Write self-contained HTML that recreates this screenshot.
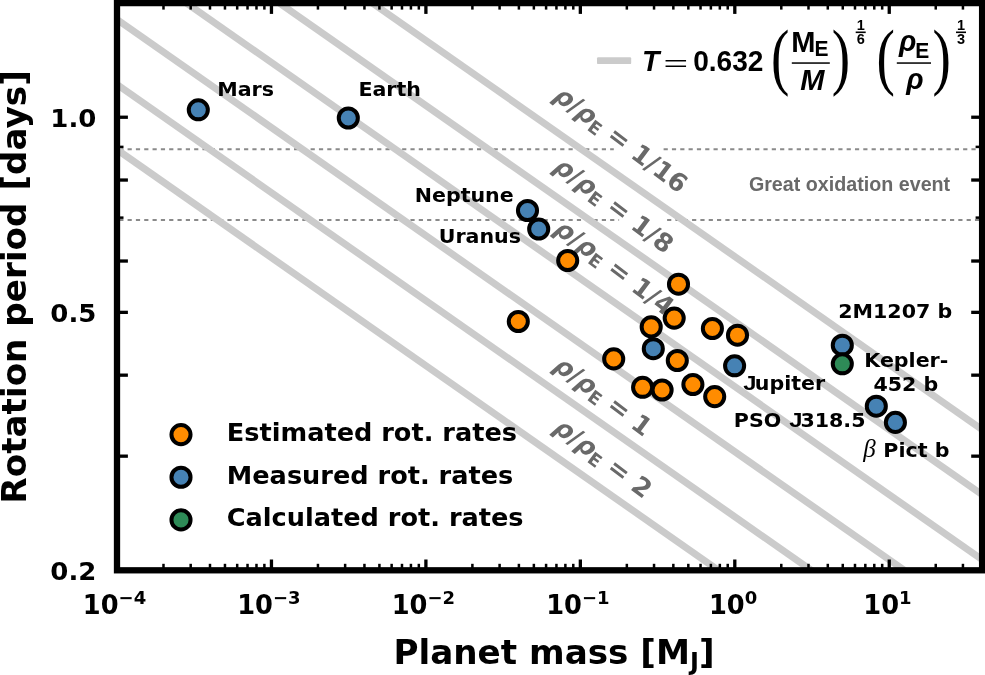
<!DOCTYPE html>
<html lang="en"><head><meta charset="utf-8"><title>Rotation period vs planet mass</title>
<style>html,body{margin:0;padding:0;background:#fff}body{width:985px;height:675px;overflow:hidden}svg{display:block}.dj{font-family:"DejaVu Sans","Liberation Sans",sans-serif;font-weight:bold}.lb{font-family:"Liberation Sans","DejaVu Sans",sans-serif;font-weight:bold}.se{font-family:"Liberation Serif","DejaVu Serif",serif}</style></head><body>
<svg width="985" height="675" viewBox="0 0 985 675">
<rect width="985" height="675" fill="#fff"/>
<defs><clipPath id="ax"><rect x="117.0" y="3.1" width="865.1" height="567.1999999999999"/></clipPath></defs>
<g clip-path="url(#ax)">
<line x1="110.93" y1="149.2" x2="613.8" y2="149.2" stroke="#8a8a8a" stroke-width="2" stroke-dasharray="4.2 4.12"/>
<line x1="663.6" y1="149.2" x2="982.1" y2="149.2" stroke="#8a8a8a" stroke-width="2" stroke-dasharray="4.2 4.12"/>
<line x1="110.93" y1="219.9" x2="619.1" y2="219.9" stroke="#8a8a8a" stroke-width="2" stroke-dasharray="4.2 4.12"/>
<line x1="667.1" y1="219.9" x2="982.1" y2="219.9" stroke="#8a8a8a" stroke-width="2" stroke-dasharray="4.2 4.12"/>
<line x1="97.0" y1="135.65" x2="1002.1" y2="768.74" stroke="#cbcbcb" stroke-width="7.0"/>
<line x1="97.0" y1="70.61" x2="1002.1" y2="703.70" stroke="#cbcbcb" stroke-width="7.0"/>
<line x1="97.0" y1="5.57" x2="1002.1" y2="638.66" stroke="#cbcbcb" stroke-width="7.0"/>
<line x1="97.0" y1="-59.47" x2="1002.1" y2="573.62" stroke="#cbcbcb" stroke-width="7.0"/>
<line x1="97.0" y1="-124.51" x2="1002.1" y2="508.58" stroke="#cbcbcb" stroke-width="7.0"/>
<line x1="97.0" y1="-189.55" x2="1002.1" y2="443.54" stroke="#cbcbcb" stroke-width="7.0"/>
</g>
<g transform="translate(552.2,98.5) rotate(37.00)">
<text class="dj" font-size="25.4" fill="#696969"><tspan font-style="italic">ρ</tspan>/<tspan font-style="italic">ρ</tspan><tspan font-size="17.8" dy="4">E</tspan><tspan dy="-4"> = 1/16</tspan></text></g>
<g transform="translate(552.2,169.5) rotate(37.00)">
<text class="dj" font-size="25.4" fill="#696969"><tspan font-style="italic">ρ</tspan>/<tspan font-style="italic">ρ</tspan><tspan font-size="17.8" dy="4">E</tspan><tspan dy="-4"> = 1/8</tspan></text></g>
<g transform="translate(552.7,231.7) rotate(37.00)">
<text class="dj" font-size="25.4" fill="#696969"><tspan font-style="italic">ρ</tspan>/<tspan font-style="italic">ρ</tspan><tspan font-size="17.8" dy="4">E</tspan><tspan dy="-4"> = 1/4</tspan></text></g>
<g transform="translate(552.2,368.5) rotate(37.00)">
<text class="dj" font-size="25.4" fill="#696969"><tspan font-style="italic">ρ</tspan>/<tspan font-style="italic">ρ</tspan><tspan font-size="17.8" dy="4">E</tspan><tspan dy="-4"> = 1</tspan></text></g>
<g transform="translate(552.2,430.5) rotate(37.00)">
<text class="dj" font-size="25.4" fill="#696969"><tspan font-style="italic">ρ</tspan>/<tspan font-style="italic">ρ</tspan><tspan font-size="17.8" dy="4">E</tspan><tspan dy="-4"> = 2</tspan></text></g>
<text class="lb" transform="translate(748.9,191) scale(0.938,1)" font-size="21" fill="#696969">Great oxidation event</text>
<circle cx="567.7" cy="260.5" r="9.55" fill="#ff8c00" stroke="#000" stroke-width="4"/>
<circle cx="518.3" cy="321.5" r="9.55" fill="#ff8c00" stroke="#000" stroke-width="4"/>
<circle cx="678.5" cy="284.2" r="9.55" fill="#ff8c00" stroke="#000" stroke-width="4"/>
<circle cx="651.2" cy="326.9" r="9.55" fill="#ff8c00" stroke="#000" stroke-width="4"/>
<circle cx="674.2" cy="318.1" r="9.55" fill="#ff8c00" stroke="#000" stroke-width="4"/>
<circle cx="712.4" cy="328.5" r="9.55" fill="#ff8c00" stroke="#000" stroke-width="4"/>
<circle cx="737.5" cy="335.2" r="9.55" fill="#ff8c00" stroke="#000" stroke-width="4"/>
<circle cx="613.7" cy="358.9" r="9.55" fill="#ff8c00" stroke="#000" stroke-width="4"/>
<circle cx="677.3" cy="360.5" r="9.55" fill="#ff8c00" stroke="#000" stroke-width="4"/>
<circle cx="642.6" cy="387.3" r="9.55" fill="#ff8c00" stroke="#000" stroke-width="4"/>
<circle cx="662.1" cy="390.0" r="9.55" fill="#ff8c00" stroke="#000" stroke-width="4"/>
<circle cx="692.9" cy="384.5" r="9.55" fill="#ff8c00" stroke="#000" stroke-width="4"/>
<circle cx="714.7" cy="396.6" r="9.55" fill="#ff8c00" stroke="#000" stroke-width="4"/>
<circle cx="198.3" cy="109.8" r="9.55" fill="#4682b4" stroke="#000" stroke-width="4"/>
<circle cx="348.3" cy="118.0" r="9.55" fill="#4682b4" stroke="#000" stroke-width="4"/>
<circle cx="527.5" cy="210.5" r="9.55" fill="#4682b4" stroke="#000" stroke-width="4"/>
<circle cx="538.7" cy="229.0" r="9.55" fill="#4682b4" stroke="#000" stroke-width="4"/>
<circle cx="653.3" cy="348.7" r="9.55" fill="#4682b4" stroke="#000" stroke-width="4"/>
<circle cx="734.6" cy="365.8" r="9.55" fill="#4682b4" stroke="#000" stroke-width="4"/>
<circle cx="842.3" cy="345.2" r="9.55" fill="#4682b4" stroke="#000" stroke-width="4"/>
<circle cx="876.3" cy="406.2" r="9.55" fill="#4682b4" stroke="#000" stroke-width="4"/>
<circle cx="895.4" cy="422.4" r="9.55" fill="#4682b4" stroke="#000" stroke-width="4"/>
<circle cx="842.3" cy="363.8" r="9.55" fill="#2e8b57" stroke="#000" stroke-width="4"/>
<text class="dj" transform="translate(217.20,95.60) scale(1,0.95)" font-size="20.6" text-anchor="start" >Mars</text>
<text class="dj" transform="translate(358.40,95.60) scale(1,0.95)" font-size="20.6" text-anchor="start" >Earth</text>
<text class="dj" transform="translate(414.70,201.50) scale(1,0.95)" font-size="20.6" text-anchor="start" >Neptune</text>
<text class="dj" transform="translate(438.70,243.10) scale(1,0.95)" font-size="20.6" text-anchor="start" >Uranus</text>
<text class="lb" font-size="22" transform="translate(743.2,390.3) scale(1.08,0.95)">J</text>
<text class="dj" transform="translate(754.80,390.20) scale(1,0.95)" font-size="20.6" text-anchor="start" >upiter</text>
<text class="dj" transform="translate(733.80,426.60) scale(1,0.95)" font-size="20.6" text-anchor="start" >PSO</text>
<text class="lb" font-size="22" transform="translate(789.3,426.6) scale(1.08,0.95)">J</text>
<text class="dj" transform="translate(800.40,426.60) scale(1,0.95)" font-size="20.6" text-anchor="start" >318.5</text>
<text class="dj" transform="translate(838.20,317.70) scale(1,0.95)" font-size="20.6" text-anchor="start" >2M1207 b</text>
<text class="dj" transform="translate(906.30,366.70) scale(1,0.95)" font-size="20.6" text-anchor="middle" >Kepler-</text>
<text class="dj" transform="translate(905.90,390.90) scale(1,0.95)" font-size="20.6" text-anchor="middle" >452 b</text>
<text class="se" x="863.2" y="457.1" font-size="25" font-style="italic">β</text>
<text class="dj" transform="translate(883.30,456.80) scale(1,0.95)" font-size="20.6" text-anchor="start" >Pict b</text>
<circle cx="181.0" cy="434.6" r="9.55" fill="#ff8c00" stroke="#000" stroke-width="4"/>
<text class="dj" transform="translate(226.80,440.90) scale(1,0.95)" font-size="25.6" text-anchor="start" >Estimated rot. rates</text>
<circle cx="181.0" cy="477.25" r="9.55" fill="#4682b4" stroke="#000" stroke-width="4"/>
<text class="dj" transform="translate(226.80,483.55) scale(1,0.95)" font-size="25.6" text-anchor="start" >Measured rot. rates</text>
<circle cx="181.0" cy="519.9" r="9.55" fill="#2e8b57" stroke="#000" stroke-width="4"/>
<text class="dj" transform="translate(226.80,526.20) scale(1,0.95)" font-size="25.6" text-anchor="start" >Calculated rot. rates</text>
<rect x="597" y="57.2" width="34.2" height="6.9" rx="1.2" fill="#cbcbcb"/>
<text class="lb" transform="translate(641.9,70.9) scale(1.0,1.06)" font-size="28.5" font-style="italic">T</text>
<text class="lb" style="font-weight:normal" font-size="22.5" transform="translate(663.5,70.8) scale(1.875,1)">=</text>
<text class="lb" transform="translate(693.2,70.9) scale(0.985,1.06)" font-size="28.5" >0.632</text>
<text class="se" font-size="74.66" transform="translate(771.1,80.6) scale(0.74,1)">(</text>
<text class="se" font-size="74.66" transform="translate(831.7,80.6) scale(0.74,1)">)</text>
<text class="se" font-size="74.66" transform="translate(876.5,80.6) scale(0.74,1)">(</text>
<text class="se" font-size="74.66" transform="translate(932.5,80.6) scale(0.74,1)">)</text>
<text class="lb" transform="translate(791.3,51.7) scale(1.02,1.06)" font-size="28.5" >M</text>
<text class="lb" transform="translate(814.6,56.2) scale(1.0,1.07)" font-size="21" >E</text>
<rect x="791.8" y="62.3" width="38" height="1.5" fill="#000"/>
<text class="lb" transform="translate(800.3,89.6) scale(1.02,1.06)" font-size="28.5" font-style="italic">M</text>
<text class="lb" transform="translate(899.1,51.2) scale(1.0,1.06)" font-size="28.5" font-style="italic">ρ</text>
<text class="lb" transform="translate(915.3,58.2) scale(1.0,1.07)" font-size="21" >E</text>
<rect x="896.8" y="62.3" width="34.2" height="1.5" fill="#000"/>
<text class="lb" transform="translate(906.2,88.7) scale(1.0,1.06)" font-size="28.5" font-style="italic">ρ</text>
<text class="lb" x="860.7" y="29.6" font-size="14.5" text-anchor="middle">1</text>
<rect x="855.7" y="31.5" width="10" height="1.6" fill="#000"/>
<text class="lb" x="860.7" y="43.8" font-size="14.5" text-anchor="middle">6</text>
<text class="lb" x="961.0" y="29.6" font-size="14.5" text-anchor="middle">1</text>
<rect x="956.0" y="31.5" width="10" height="1.6" fill="#000"/>
<text class="lb" x="961.0" y="43.8" font-size="14.5" text-anchor="middle">3</text>
<rect x="162.24" y="563.8" width="2.5" height="6.5"/>
<rect x="162.24" y="3.1" width="2.5" height="6.5"/>
<rect x="189.44" y="563.8" width="2.5" height="6.5"/>
<rect x="189.44" y="3.1" width="2.5" height="6.5"/>
<rect x="208.74" y="563.8" width="2.5" height="6.5"/>
<rect x="208.74" y="3.1" width="2.5" height="6.5"/>
<rect x="223.71" y="563.8" width="2.5" height="6.5"/>
<rect x="223.71" y="3.1" width="2.5" height="6.5"/>
<rect x="235.94" y="563.8" width="2.5" height="6.5"/>
<rect x="235.94" y="3.1" width="2.5" height="6.5"/>
<rect x="246.28" y="563.8" width="2.5" height="6.5"/>
<rect x="246.28" y="3.1" width="2.5" height="6.5"/>
<rect x="255.23" y="563.8" width="2.5" height="6.5"/>
<rect x="255.23" y="3.1" width="2.5" height="6.5"/>
<rect x="263.13" y="563.8" width="2.5" height="6.5"/>
<rect x="263.13" y="3.1" width="2.5" height="6.5"/>
<rect x="269.80" y="559.5" width="3.3" height="10.8"/>
<rect x="269.80" y="3.1" width="3.3" height="10.8"/>
<rect x="316.69" y="563.8" width="2.5" height="6.5"/>
<rect x="316.69" y="3.1" width="2.5" height="6.5"/>
<rect x="343.89" y="563.8" width="2.5" height="6.5"/>
<rect x="343.89" y="3.1" width="2.5" height="6.5"/>
<rect x="363.19" y="563.8" width="2.5" height="6.5"/>
<rect x="363.19" y="3.1" width="2.5" height="6.5"/>
<rect x="378.16" y="563.8" width="2.5" height="6.5"/>
<rect x="378.16" y="3.1" width="2.5" height="6.5"/>
<rect x="390.39" y="563.8" width="2.5" height="6.5"/>
<rect x="390.39" y="3.1" width="2.5" height="6.5"/>
<rect x="400.73" y="563.8" width="2.5" height="6.5"/>
<rect x="400.73" y="3.1" width="2.5" height="6.5"/>
<rect x="409.68" y="563.8" width="2.5" height="6.5"/>
<rect x="409.68" y="3.1" width="2.5" height="6.5"/>
<rect x="417.58" y="563.8" width="2.5" height="6.5"/>
<rect x="417.58" y="3.1" width="2.5" height="6.5"/>
<rect x="424.25" y="559.5" width="3.3" height="10.8"/>
<rect x="424.25" y="3.1" width="3.3" height="10.8"/>
<rect x="471.14" y="563.8" width="2.5" height="6.5"/>
<rect x="471.14" y="3.1" width="2.5" height="6.5"/>
<rect x="498.34" y="563.8" width="2.5" height="6.5"/>
<rect x="498.34" y="3.1" width="2.5" height="6.5"/>
<rect x="517.64" y="563.8" width="2.5" height="6.5"/>
<rect x="517.64" y="3.1" width="2.5" height="6.5"/>
<rect x="532.61" y="563.8" width="2.5" height="6.5"/>
<rect x="532.61" y="3.1" width="2.5" height="6.5"/>
<rect x="544.84" y="563.8" width="2.5" height="6.5"/>
<rect x="544.84" y="3.1" width="2.5" height="6.5"/>
<rect x="555.18" y="563.8" width="2.5" height="6.5"/>
<rect x="555.18" y="3.1" width="2.5" height="6.5"/>
<rect x="564.13" y="563.8" width="2.5" height="6.5"/>
<rect x="564.13" y="3.1" width="2.5" height="6.5"/>
<rect x="572.03" y="563.8" width="2.5" height="6.5"/>
<rect x="572.03" y="3.1" width="2.5" height="6.5"/>
<rect x="578.70" y="559.5" width="3.3" height="10.8"/>
<rect x="578.70" y="3.1" width="3.3" height="10.8"/>
<rect x="625.59" y="563.8" width="2.5" height="6.5"/>
<rect x="625.59" y="3.1" width="2.5" height="6.5"/>
<rect x="652.79" y="563.8" width="2.5" height="6.5"/>
<rect x="652.79" y="3.1" width="2.5" height="6.5"/>
<rect x="672.09" y="563.8" width="2.5" height="6.5"/>
<rect x="672.09" y="3.1" width="2.5" height="6.5"/>
<rect x="687.06" y="563.8" width="2.5" height="6.5"/>
<rect x="687.06" y="3.1" width="2.5" height="6.5"/>
<rect x="699.29" y="563.8" width="2.5" height="6.5"/>
<rect x="699.29" y="3.1" width="2.5" height="6.5"/>
<rect x="709.63" y="563.8" width="2.5" height="6.5"/>
<rect x="709.63" y="3.1" width="2.5" height="6.5"/>
<rect x="718.58" y="563.8" width="2.5" height="6.5"/>
<rect x="718.58" y="3.1" width="2.5" height="6.5"/>
<rect x="726.48" y="563.8" width="2.5" height="6.5"/>
<rect x="726.48" y="3.1" width="2.5" height="6.5"/>
<rect x="733.15" y="559.5" width="3.3" height="10.8"/>
<rect x="733.15" y="3.1" width="3.3" height="10.8"/>
<rect x="780.04" y="563.8" width="2.5" height="6.5"/>
<rect x="780.04" y="3.1" width="2.5" height="6.5"/>
<rect x="807.24" y="563.8" width="2.5" height="6.5"/>
<rect x="807.24" y="3.1" width="2.5" height="6.5"/>
<rect x="826.54" y="563.8" width="2.5" height="6.5"/>
<rect x="826.54" y="3.1" width="2.5" height="6.5"/>
<rect x="841.51" y="563.8" width="2.5" height="6.5"/>
<rect x="841.51" y="3.1" width="2.5" height="6.5"/>
<rect x="853.74" y="563.8" width="2.5" height="6.5"/>
<rect x="853.74" y="3.1" width="2.5" height="6.5"/>
<rect x="864.08" y="563.8" width="2.5" height="6.5"/>
<rect x="864.08" y="3.1" width="2.5" height="6.5"/>
<rect x="873.03" y="563.8" width="2.5" height="6.5"/>
<rect x="873.03" y="3.1" width="2.5" height="6.5"/>
<rect x="880.93" y="563.8" width="2.5" height="6.5"/>
<rect x="880.93" y="3.1" width="2.5" height="6.5"/>
<rect x="887.60" y="559.5" width="3.3" height="10.8"/>
<rect x="887.60" y="3.1" width="3.3" height="10.8"/>
<rect x="934.49" y="563.8" width="2.5" height="6.5"/>
<rect x="934.49" y="3.1" width="2.5" height="6.5"/>
<rect x="961.69" y="563.8" width="2.5" height="6.5"/>
<rect x="961.69" y="3.1" width="2.5" height="6.5"/>
<rect x="980.99" y="563.8" width="2.5" height="6.5"/>
<rect x="980.99" y="3.1" width="2.5" height="6.5"/>
<rect x="117.0" y="454.51" width="10.9" height="3.3"/>
<rect x="971.2" y="454.51" width="10.9" height="3.3"/>
<rect x="117.0" y="373.52" width="10.9" height="3.3"/>
<rect x="971.2" y="373.52" width="10.9" height="3.3"/>
<rect x="117.0" y="310.71" width="10.9" height="3.3"/>
<rect x="971.2" y="310.71" width="10.9" height="3.3"/>
<rect x="117.0" y="259.38" width="10.9" height="3.3"/>
<rect x="971.2" y="259.38" width="10.9" height="3.3"/>
<rect x="117.0" y="178.39" width="10.9" height="3.3"/>
<rect x="971.2" y="178.39" width="10.9" height="3.3"/>
<rect x="117.0" y="115.58" width="10.9" height="3.3"/>
<rect x="971.2" y="115.58" width="10.9" height="3.3"/>
<rect x="117.0" y="216.39" width="6.5" height="2.5"/>
<rect x="975.6" y="216.39" width="6.5" height="2.5"/>
<rect x="117.0" y="145.64" width="6.5" height="2.5"/>
<rect x="975.6" y="145.64" width="6.5" height="2.5"/>
<rect x="117.0" y="3.1" width="865.1" height="567.1999999999999" fill="none" stroke="#000" stroke-width="6.3"/>
<text class="dj" transform="translate(96.40,127.33) scale(1,0.95)" font-size="26" text-anchor="end" >1.0</text>
<text class="dj" transform="translate(96.40,322.46) scale(1,0.95)" font-size="26" text-anchor="end" >0.5</text>
<text class="dj" transform="translate(96.40,580.40) scale(1,0.95)" font-size="26" text-anchor="end" >0.2</text>
<text class="dj" x="82.80" y="614" font-size="25.7">10<tspan font-size="18" dy="-10">−4</tspan></text>
<text class="dj" x="237.25" y="614" font-size="25.7">10<tspan font-size="18" dy="-10">−3</tspan></text>
<text class="dj" x="391.70" y="614" font-size="25.7">10<tspan font-size="18" dy="-10">−2</tspan></text>
<text class="dj" x="546.15" y="614" font-size="25.7">10<tspan font-size="18" dy="-10">−1</tspan></text>
<text class="dj" x="708.90" y="614" font-size="25.7">10<tspan font-size="18" dy="-10">0</tspan></text>
<text class="dj" x="863.35" y="614" font-size="25.7">10<tspan font-size="18" dy="-10">1</tspan></text>
<text class="dj" x="393.4" y="664" font-size="34.2">Planet mass [M<tspan font-size="24" dy="6.2">J</tspan><tspan dy="-6.2">]</tspan></text>
<text class="dj" font-size="34.2" text-anchor="middle" transform="translate(25.7,286.9) rotate(-90)">Rotation period [days]</text>
</svg></body></html>
